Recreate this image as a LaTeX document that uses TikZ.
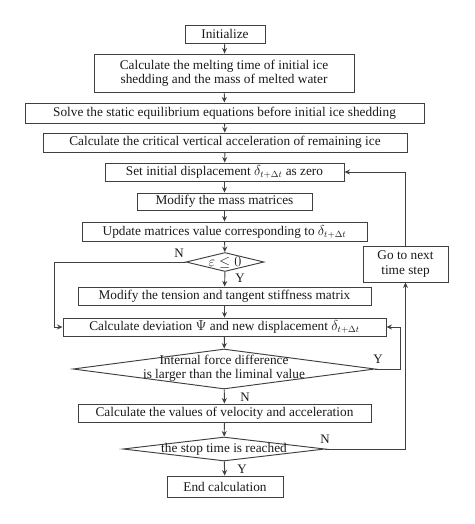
\documentclass[tikz,border=0pt]{standalone}
\usepackage{fontspec}
\setmainfont{Liberation Serif}
\usetikzlibrary{shapes.geometric,arrows.meta}
\definecolor{ln}{HTML}{404040}
\definecolor{tx}{HTML}{1a1a1a}
\begin{document}
\begin{tikzpicture}[x=1pt,y=-1pt,
  font=\fontsize{13.3}{14.3}\selectfont, text=tx,
  box/.style={draw=ln, line width=0.95pt, rectangle, inner sep=0pt, align=center, minimum width=#1},
  dia/.style={draw=ln, line width=0.95pt, diamond, inner sep=0pt},
  arr/.style={draw=ln, line width=0.95pt, -{Stealth[length=5.5pt,width=5pt]}},
  lbl/.style={inner sep=0pt, font=\fontsize{13}{14}\selectfont}]
\useasboundingbox (0,0) rectangle (474,524);
\node[box=80, minimum height=18] (init) at (225,34) {Initialize};
\node[box=260, minimum height=38] (melt) at (224,73) {Calculate the melting time of initial ice\\shedding and the mass of melted water};
\node[box=399, minimum height=20] (solve) at (224.5,113) {Solve the static equilibrium equations before initial ice shedding};
\node[box=364, minimum height=19] (crit) at (225,142.5) {Calculate the critical vertical acceleration of remaining ice};
\node[box=239, minimum height=18] (set) at (224.5,172) {Set initial displacement $\delta_{t+\Delta t}$ as zero};
\node[box=175, minimum height=17] (mass) at (224.5,201.5) {Modify the mass matrices};
\node[box=285, minimum height=19] (upd) at (224.5,231.5) {Update matrices value corresponding to $\delta_{t+\Delta t}$};
\node[dia, minimum width=78, minimum height=19] (eps) at (225,262) {};
\node[inner sep=0pt] (epst) at (225,262.5) {$\varepsilon \leq 0$};
\node[box=293, minimum height=18] (ten) at (224.5,296) {Modify the tension and tangent stiffness matrix};
\node[box=323, minimum height=18] (dev) at (224.5,327) {Calculate deviation $\Psi$ and new displacement $\delta_{t+\Delta t}$};
\node[dia, minimum width=302, minimum height=40] (ifd) at (224,369) {};
\node[inner sep=0pt, align=center] (ifdt) at (224,368.5) {Internal force difference\\is larger than the liminal value};
\node[box=293, minimum height=18] (vel) at (224.5,413) {Calculate the values of velocity and acceleration};
\node[dia, minimum width=202, minimum height=24] (stop) at (224,449) {};
\node[inner sep=0pt] (stopt) at (224,449) {the stop time is reached};
\node[box=116, minimum height=21] (end) at (225,486.5) {End calculation};
\node[box=85, minimum height=36] (go) at (405.5,264) {Go to next\\time step};
\coordinate (L) at (54,262);
\coordinate (R) at (400,369);
\draw[arr] (init) -- (melt);
\draw[arr] (melt) -- (solve);
\draw[arr] (solve) -- (crit);
\draw[arr] (crit) -- (set);
\draw[arr] (set) -- (mass);
\draw[arr] (mass) -- (upd);
\draw[arr] (upd) -- (eps);
\draw[arr] (eps) -- (ten);
\draw[arr] (ten) -- (dev);
\draw[arr] (dev) -- (ifd);
\draw[arr] (ifd) -- (vel);
\draw[arr] (vel) -- (stop);
\draw[arr] (stop) -- (end);
\draw[arr] (eps.west) -- (L) |- (dev.west);
\draw[arr] (ifd.east) -- (R) |- (dev.east);
\draw[arr] (stop.east) -| (go.south);
\draw[arr] (go.north) |- (set.east);
\node[lbl] (n1) at (179,253) {N};
\node[lbl] (y1) at (240,278) {Y};
\node[lbl] (y2) at (378,359) {Y};
\node[lbl] (n2) at (245,397) {N};
\node[lbl] (n3) at (325,439) {N};
\node[lbl] (y3) at (242,469) {Y};
\end{tikzpicture}
\end{document}
